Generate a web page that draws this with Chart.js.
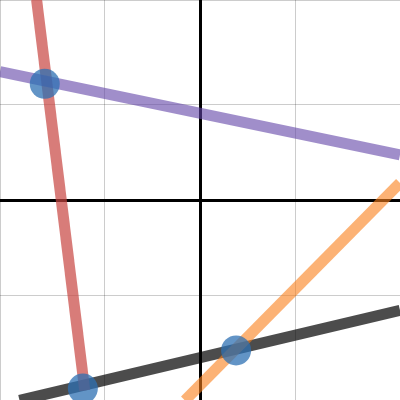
<!DOCTYPE html>
<html><head><script src="https://cdn.jsdelivr.net/npm/chart.js@4"></script>
<style>html,body{margin:0;padding:0;background:#fff}</style></head>
<body><canvas id="c" width="400" height="400"></canvas>
<script>
const purpleLine=[{x:-2.1,y:1.347},{x:2.1,y:0.474}];
const redLine=[{x:-1.716,y:2.105},{x:-1.21,y:-2.0}];
const orangeLine=[{x:-0.158,y:-2.105},{x:2.1,y:0.179}];
const blackLine=[{x:-1.895,y:-2.105},{x:2.1,y:-1.158}];
const points=[{x:-1.63,y:1.22},{x:0.379,y:-1.579},{x:-1.23,y:-1.98}];
const mk=(d,c)=>({data:d,showLine:true,borderColor:c,borderWidth:11,pointRadius:0,borderCapStyle:'butt'});
const grid={color:c=>c.tick.value===0?'#000':'rgba(0,0,0,0.2)',lineWidth:c=>c.tick.value===0?3:1,drawTicks:false};
new Chart(document.getElementById('c'),{type:'scatter',
data:{datasets:[
{data:points,pointRadius:15,pointBackgroundColor:'rgba(45,112,179,0.75)',pointBorderWidth:0,showLine:false},
mk(purpleLine,'rgba(96,66,166,0.6)'),mk(redLine,'rgba(199,68,64,0.7)'),
mk(orangeLine,'rgba(250,126,25,0.6)'),mk(blackLine,'rgba(0,0,0,0.7)')]},
options:{responsive:false,animation:false,layout:{padding:0,autoPadding:false},
plugins:{legend:{display:false},tooltip:{enabled:false}},
scales:{x:{type:'linear',min:-2.1,max:2.1,ticks:{display:false,stepSize:1,padding:0},grid,border:{display:false}},
y:{type:'linear',min:-2.1,max:2.1,ticks:{display:false,stepSize:1,padding:0},grid,border:{display:false}}}}});
</script></body></html>
